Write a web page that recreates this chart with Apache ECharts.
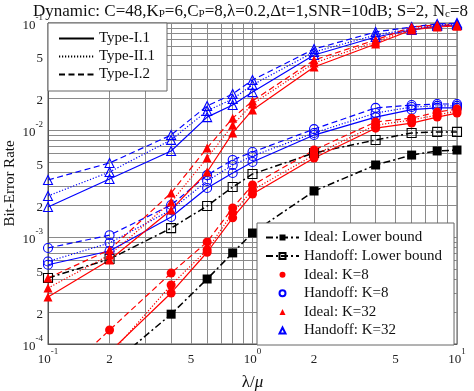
<!DOCTYPE html>
<html><head><meta charset="utf-8">
<script src="https://cdn.jsdelivr.net/npm/echarts@6/dist/echarts.min.js"></script>
<style>html,body{margin:0;padding:0;background:#fff}#c{width:474px;height:391px}</style>
</head><body><div id="c"></div>
<script>
// ---------- data ----------
const lambdaMu = [0.1, 0.2, 0.4, 0.6, 0.8, 1, 2, 4, 6, 8, 10];
const xTickLabels = [0.1, 0.2, 0.5, 1, 2, 5, 10];
const yTickLabels = [1e-4, 2e-4, 5e-4, 1e-3, 2e-3, 5e-3, 1e-2, 2e-2, 5e-2, 1e-1];

const idealLowerBound   = [null, 6.2e-5, 1.9e-4, 4.05e-4, 7.1e-4, 1.09e-3, 2.69e-3, 4.71e-3, 5.83e-3, 6.37e-3, 6.5e-3];
const handoffLowerBound = [4.14e-4, 6.22e-4, 1.21e-3, 1.95e-3, 2.93e-3, 3.88e-3, 6.1e-3, 8.07e-3, 9.38e-3, 9.6e-3, 9.6e-3];

const idealK8_TypeI1   = [2.4e-5, 8.4e-5, 3.0e-4, 7.2e-4, 1.51e-3, 2.52e-3, 5.47e-3, 1.04e-2, 1.16e-2, 1.32e-2, 1.44e-2];
const idealK8_TypeII1  = [2.2e-5, 7.9e-5, 3.56e-4, 7.6e-4, 1.68e-3, 2.75e-3, 5.83e-3, 1.11e-2, 1.24e-2, 1.38e-2, 1.51e-2];
const idealK8_TypeI2   = [3.9e-5, 1.35e-4, 4.6e-4, 9.0e-4, 1.87e-3, 3.06e-3, 6.5e-3, 1.19e-2, 1.29e-2, 1.47e-2, 1.57e-2];

const handoffK8_TypeI1  = [5.5e-4, 7.4e-4, 1.54e-3, 2.87e-3, 3.96e-3, 5.02e-3, 8.97e-3, 1.32e-2, 1.55e-2, 1.61e-2, 1.61e-2];
const handoffK8_TypeII1 = [5.9e-4, 8.8e-4, 1.79e-3, 3.34e-3, 4.71e-3, 5.71e-3, 9.38e-3, 1.44e-2, 1.64e-2, 1.68e-2, 1.68e-2];
const handoffK8_TypeI2  = [7.9e-4, 1.04e-3, 1.99e-3, 3.79e-3, 5.25e-3, 6.22e-3, 1.02e-2, 1.61e-2, 1.71e-2, 1.75e-2, 1.75e-2];

const idealK32_TypeI1   = [2.75e-4, 6.1e-4, 1.79e-3, 4.05e-3, 9.4e-3, 1.54e-2, 3.88e-2, 6.36e-2, 8.6e-2, 9.18e-2, 9.38e-2];
const idealK32_TypeII1  = [3.33e-4, 6.8e-4, 2.12e-3, 5.47e-3, 1.11e-2, 1.75e-2, 4.23e-2, 6.65e-2, 8.79e-2, 9.38e-2, 9.38e-2];
const idealK32_TypeI2   = [4.14e-4, 7.6e-4, 2.58e-3, 6.8e-3, 1.29e-2, 1.87e-2, 4.51e-2, 6.94e-2, 9.18e-2, 9.58e-2, 9.58e-2];

const handoffK32_TypeI1  = [1.91e-3, 3.48e-3, 6.37e-3, 1.32e-2, 1.71e-2, 2.26e-2, 5.02e-2, 7.4e-2, 8.6e-2, 9.38e-2, 9.58e-2];
const handoffK32_TypeII1 = [2.42e-3, 4.05e-3, 8.08e-3, 1.51e-2, 1.95e-2, 2.64e-2, 5.36e-2, 7.72e-2, 8.79e-2, 9.58e-2, 9.79e-2];
const handoffK32_TypeI2  = [3.41e-3, 4.92e-3, 8.97e-3, 1.68e-2, 2.17e-2, 2.93e-2, 5.71e-2, 8.24e-2, 9.18e-2, 9.79e-2, 1.0e-1];

// ---------- styles ----------
const FONT = '"Liberation Serif", "Times New Roman", serif';
const RED = '#ff0000', BLUE = '#0000ff', BLACK = '#000000';
const DASH = { solid: 'solid', dotted: [1.2, 1.8], dashed: [6, 3.5], dashdot: [7, 3, 2, 3] };
const NONE = 'rgba(0,0,0,0)';

function minorTicks(lo, hi) {
  const out = [];
  for (let e = lo; e < hi; e++) for (let m = 1; m <= 9; m++) out.push(+(m * Math.pow(10, e)).toPrecision(6));
  out.push(Math.pow(10, hi));
  return out;
}
function fmt(v) {
  const e = Math.log10(v), r = Math.round(e);
  if (Math.abs(e - r) < 1e-6) return '{b|10}{s|' + r + '}';
  return '{m|' + Math.round(v / Math.pow(10, Math.floor(e + 1e-9))) + '}';
}
const labelRich = {
  b: { fontFamily: FONT, fontSize: 13, color: '#222', verticalAlign: 'bottom', lineHeight: 19 },
  s: { fontFamily: FONT, fontSize: 9, color: '#222', verticalAlign: 'top', lineHeight: 19 },
  m: { fontFamily: FONT, fontSize: 13, color: '#222', verticalAlign: 'bottom', lineHeight: 19 }
};

function pts(vals) {
  const d = [];
  vals.forEach((v, i) => { if (v != null) d.push([lambdaMu[i], v]); });
  return d;
}
function mk(name, vals, color, dash, symbol, filled, size, width) {
  return {
    name, type: 'line', data: pts(vals), symbol, symbolSize: size || 8,
    lineStyle: { color, width: width || 1.2, type: dash },
    itemStyle: { color: filled ? color : NONE, borderColor: color, borderWidth: filled ? 0 : 1.1 },
    emphasis: { disabled: true }, animation: false, clip: true, z: 3
  };
}
const groups = [
  { key: 'hK32', color: BLUE, symbol: 'triangle', filled: false, size: 9, arr: [handoffK32_TypeI1, handoffK32_TypeII1, handoffK32_TypeI2] },
  { key: 'hK8', color: BLUE, symbol: 'circle', filled: false, size: 9, arr: [handoffK8_TypeI1, handoffK8_TypeII1, handoffK8_TypeI2] },
  { key: 'iK32', color: RED, symbol: 'triangle', filled: true, size: 9, arr: [idealK32_TypeI1, idealK32_TypeII1, idealK32_TypeI2] },
  { key: 'iK8', color: RED, symbol: 'circle', filled: true, size: 9, arr: [idealK8_TypeI1, idealK8_TypeII1, idealK8_TypeI2] }
];
const typeDash = [DASH.solid, DASH.dotted, DASH.dashed];
const series = [];
series.push(mk('hLB', handoffLowerBound, BLACK, DASH.dashdot, 'rect', false, 9, 1.5));
series.push(mk('iLB', idealLowerBound, BLACK, DASH.dashdot, 'rect', true, 9, 1.5));
groups.forEach(g => g.arr.forEach((a, i) => series.push(mk(g.key + i, a, g.color, typeDash[i], g.symbol, g.filled, g.size))));

// legend-only series
function leg(name, color, dash, symbol, fill, lineW) {
  return {
    name, type: 'line', data: [], symbol: symbol, symbolSize: 8,
    lineStyle: { color, width: lineW, type: dash, opacity: lineW ? 1 : 0 },
    itemStyle: { color: fill, borderColor: fill === NONE && symbol !== 'none' ? color : NONE, borderWidth: fill === NONE && symbol !== 'none' ? 1.1 : 0 }
  };
}
series.push(leg('Type-I.1', BLACK, DASH.solid, 'none', NONE, 1.3));
series.push(leg('Type-II.1', BLACK, DASH.dotted, 'none', NONE, 1.3));
series.push(leg('Type-I.2', BLACK, DASH.dashed, 'none', NONE, 1.3));
series.push(leg('Ideal: Lower bound', BLACK, DASH.dashdot, 'rect', BLACK, 1.5));
series.push(leg('Handoff: Lower bound', BLACK, DASH.dashdot, 'rect', NONE, 1.5));
series.push(leg('Ideal: K=8', RED, 'solid', 'circle', RED, 0));
series.push(leg('Handoff: K=8', BLUE, 'solid', 'circle', NONE, 0));
series.push(leg('Ideal: K=32', RED, 'solid', 'triangle', RED, 0));
series.push(leg('Handoff: K=32', BLUE, 'solid', 'triangle', NONE, 0));

const legendText = { fontFamily: FONT, fontSize: 15, color: '#111' };
const option = {
  backgroundColor: '#fff',
  animation: false,
  title: {
    text: '{t|Dynamic: C=48,K}{u|P}{t|=6,C}{u|P}{t|=8,λ=0.2,Δt=1,SNR=10dB; S=2, N}{u|c}{t|=8}',
    left: 33, top: 0, padding: 0,
    textStyle: {
      fontWeight: 'normal',
      rich: {
        t: { fontFamily: FONT, fontSize: 17, fontWeight: 'normal', color: '#111', verticalAlign: 'bottom', lineHeight: 20 },
        u: { fontFamily: FONT, fontSize: 11, fontWeight: 'normal', color: '#111', verticalAlign: 'bottom', lineHeight: 17 }
      }
    }
  },
  grid: { left: 48, right: 17, top: 23, bottom: 47, containLabel: false, outerBoundsMode: 'none', show: true, borderColor: '#555', borderWidth: 1, backgroundColor: '#fff' },
  xAxis: {
    type: 'log', logBase: 10, min: 0.1, max: 10,
    name: '{a|λ/}{b|μ}', nameLocation: 'middle', nameGap: 30, nameMoveOverlap: false,
    nameTextStyle: { rich: { a: { fontFamily: FONT, fontSize: 17, color: '#111' }, b: { fontFamily: FONT, fontSize: 17, fontStyle: 'italic', color: '#111' } } },
    axisLine: { show: true, lineStyle: { color: '#555', width: 1 } },
    axisTick: { show: false, customValues: minorTicks(-1, 1) },
    axisLabel: { customValues: xTickLabels, formatter: fmt, rich: labelRich, margin: 3 },
    splitLine: { show: true, lineStyle: { color: '#8a8a8a', width: 1 } },
    minorTick: { show: false }, minorSplitLine: { show: false }
  },
  yAxis: {
    type: 'log', logBase: 10, min: 1e-4, max: 1e-1,
    name: 'Bit-Error Rate', nameLocation: 'middle', nameGap: 30, nameMoveOverlap: false,
    nameTextStyle: { fontFamily: FONT, fontSize: 15, color: '#111' },
    axisLine: { show: true, lineStyle: { color: '#555', width: 1 } },
    axisTick: { show: false, customValues: minorTicks(-4, -1) },
    axisLabel: { customValues: yTickLabels, formatter: fmt, rich: labelRich, margin: 5 },
    splitLine: { show: true, lineStyle: { color: '#8a8a8a', width: 1 } },
    minorTick: { show: false }, minorSplitLine: { show: false }
  },
  legend: [
    {
      data: ['Type-I.1', 'Type-II.1', 'Type-I.2'],
      orient: 'vertical', left: 48, top: 23, itemWidth: 35, itemHeight: 8, itemGap: 3,
      padding: [8, 12, 9, 10], backgroundColor: '#fff', borderColor: '#666', borderWidth: 1,
      textStyle: legendText, selectedMode: false, z: 10
    },
    {
      data: ['Ideal: Lower bound', 'Handoff: Lower bound', 'Ideal: K=8', 'Handoff: K=8', 'Ideal: K=32', 'Handoff: K=32'],
      orient: 'vertical', left: 257, top: 223, itemWidth: 33, itemHeight: 7.5, itemGap: 3.6,
      padding: [7, 12, 7, 8], backgroundColor: '#fff', borderColor: '#666', borderWidth: 1,
      textStyle: legendText, selectedMode: false, z: 10
    }
  ],
  series
};
const chart = echarts.init(document.getElementById('c'), null, { renderer: 'canvas' });
chart.setOption(option);
</script></body></html>
